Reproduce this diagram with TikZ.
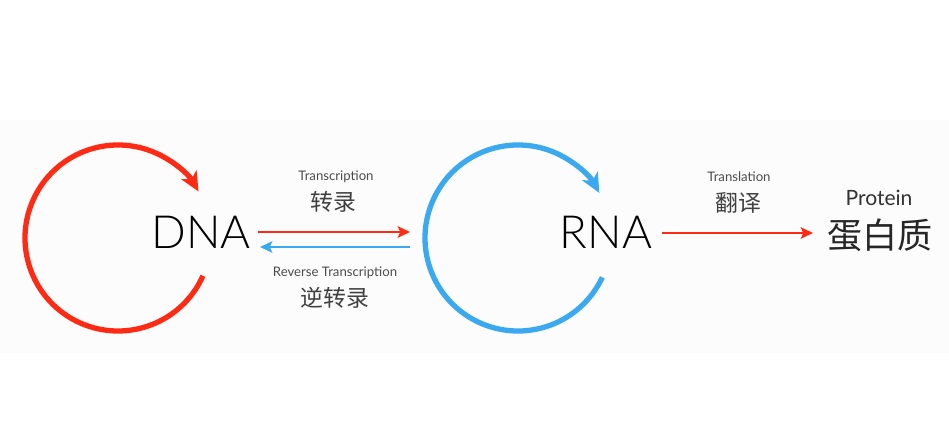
\documentclass[tikz,border=0pt]{standalone}
\usepackage{fontspec}
\setmainfont{Lato}
\newfontfamily\thinfont{Lato Light}
\newfontfamily\cjk{Noto Sans CJK SC}
\usetikzlibrary{arrows.meta,calc}
\definecolor{loopred}{HTML}{FF2A14}
\definecolor{loopblue}{HTML}{3AA9F0}
\definecolor{band}{HTML}{FCFCFC}
\tikzset{
  loop/.style={line width=3pt,-{Stealth[length=11pt,width=10pt,inset=3pt]}},
  link/.style={line width=1.6pt,-{Stealth[length=7pt,width=6.5pt,inset=1.5pt]}},
  big/.style={font=\thinfont\fontsize{26}{26}\selectfont,inner sep=0pt},
  small/.style={font=\fontsize{7.5}{8}\selectfont,text=black!70,inner sep=0pt},
  han/.style={font=\cjk\fontsize{13}{13}\selectfont,text=black!75,inner sep=0pt},
}
\begin{document}
\begin{tikzpicture}[x=0.02cm,y=0.02cm]
  \useasboundingbox (0,0) rectangle (949,446);
  \fill[band] (0,93) rectangle (949,326);
  \coordinate (dnac) at (118,208);
  \coordinate (rnac) at (518,208);
  \node[big] (dna) at (201,214) {DNA};
  \node[big] (rna) at (606,214) {RNA};
  \node[font=\cjk\fontsize{20}{20}\selectfont,text=black!85,inner sep=0pt] (prot) at (880,211) {蛋白质};
  \node[font=\fontsize{12}{12}\selectfont,text=black!80,inner sep=0pt] (protein) at (879,248) {Protein};
  % self loops
  \draw[loop,loopred] ($(dnac)+(-24:93)$) arc[start angle=-24,end angle=-330,radius=93];
  \draw[loop,loopblue] ($(rnac)+(-25:93)$) arc[start angle=-25,end angle=-331,radius=93];
  % transcription / reverse
  \draw[link,loopred] ($(dna)+(57,0)$) -- ($(rnac)+(-108,6)$);
  \draw[link,loopblue] ($(rnac)+(-108,-9)$) -- ($(dna)+(59,-15)$);
  \draw[link,loopred] ($(rna)+(56,-1)$) -- ($(prot)+(-67,2)$);
  \node[small] (trans) at (336,269) {Transcription};
  \node[han] (transzh) at (333,244) {转录};
  \node[small] (rev) at (335,173) {Reverse Transcription};
  \node[han] (revzh) at (335,148) {逆转录};
  \node[small] (transl) at (739,269) {Translation};
  \node[han] (translzh) at (738,243) {翻译};
\end{tikzpicture}
\end{document}
